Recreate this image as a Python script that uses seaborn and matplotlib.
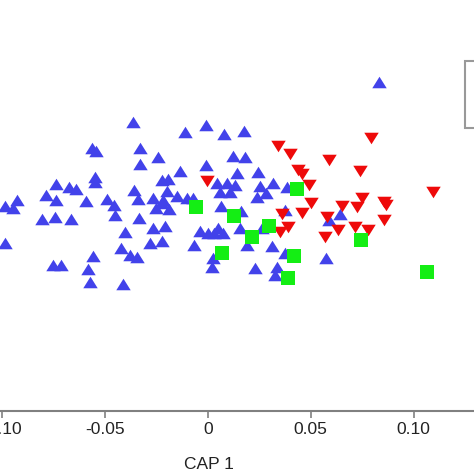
import matplotlib
matplotlib.use("Agg")
import matplotlib.pyplot as plt
import pandas as pd
import seaborn as sns

# CAP scores (CAP 1, CAP 2)
group_a_x = [-0.0564, -0.0545, -0.0550, -0.0550, -0.0740, -0.0676, -0.0642, -0.0788, -0.0740, -0.0594,
             -0.0491, -0.0457, -0.0453, -0.0929, -0.0988, -0.0949, -0.0808, -0.0744, -0.0667, -0.0988,
             -0.0754, -0.0715, -0.0560, -0.0584, -0.0574, -0.0414, -0.0404, -0.0423, -0.0380, -0.0345,
             -0.0365, -0.0112, -0.0010, 0.0078, 0.0175, -0.0331, -0.0243, -0.0331, -0.0136, -0.0010,
             0.0122, 0.0180, 0.0141, 0.0243, -0.0224, -0.0195, -0.0360, -0.0341, -0.0200, -0.0268,
             -0.0219, -0.0151, -0.0102, -0.0073, -0.0253, -0.0224, -0.0190, 0.0044, 0.0092, 0.0131,
             0.0058, 0.0107, 0.0063, 0.0253, 0.0316, 0.0238, 0.0282, 0.0384, 0.0161, -0.0336,
             -0.0268, -0.0209, -0.0224, -0.0282, -0.0039, 0.0000, 0.0029, 0.0049, 0.0073, -0.0068,
             0.0190, 0.0311, 0.0375, 0.0024, 0.0019, 0.0229, 0.0336, 0.0326, 0.0574, 0.0156,
             0.0263, 0.0375, 0.0642, 0.0589, 0.0832]
group_a_y = [0.0302, 0.0287, 0.0161, 0.0136, 0.0127, 0.0112, 0.0102, 0.0073, 0.0049, 0.0044,
             0.0054, 0.0024, -0.0024, 0.0049, 0.0019, 0.0010, -0.0044, -0.0034, -0.0044, -0.0161,
             -0.0268, -0.0268, -0.0224, -0.0287, -0.0350, -0.0360, -0.0107, -0.0185, -0.0219, -0.0229,
             0.0428, 0.0380, 0.0414, 0.0370, 0.0384, 0.0302, 0.0258, 0.0224, 0.0190, 0.0219,
             0.0263, 0.0258, 0.0180, 0.0185, 0.0146, 0.0151, 0.0097, 0.0054, 0.0092, 0.0058,
             0.0049, 0.0068, 0.0058, 0.0058, 0.0010, 0.0034, 0.0005, 0.0131, 0.0131, 0.0122,
             0.0088, 0.0088, 0.0019, 0.0117, 0.0131, 0.0063, 0.0083, 0.0112, -0.0005, -0.0039,
             -0.0088, -0.0078, -0.0151, -0.0161, -0.0102, -0.0112, -0.0112, -0.0088, -0.0112, -0.0170,
             -0.0170, -0.0175, -0.0209, -0.0234, -0.0277, -0.0282, -0.0277, -0.0316, -0.0234, -0.0088,
             -0.0088, 0.0000, -0.0019, -0.0049, 0.0623]

group_b_x = [-0.0005, 0.0341, 0.0399, 0.0589, 0.0793, 0.0740, 0.1095, 0.0438, 0.0457, 0.0491,
             0.0501, 0.0457, 0.0749, 0.0725, 0.0856, 0.0866, 0.0652, 0.0579, 0.0633, 0.0715,
             0.0779, 0.0856, 0.0569, 0.0360, 0.0389, 0.0350]
group_b_y = [0.0141, 0.0311, 0.0273, 0.0243, 0.0350, 0.0190, 0.0088, 0.0195, 0.0175, 0.0122,
             0.0034, -0.0015, 0.0058, 0.0015, 0.0039, 0.0024, 0.0019, -0.0034, -0.0097, -0.0083,
             -0.0097, -0.0049, -0.0131, -0.0019, -0.0083, -0.0107]

group_c_x = [-0.0058, 0.0127, 0.0297, 0.0214, 0.0068, 0.0433, 0.0418, 0.0389, 0.0745, 0.1066]
group_c_y = [0.0015, -0.0029, -0.0078, -0.0131, -0.0209, 0.0102, -0.0224, -0.0331, -0.0146, -0.0302]

groups = ["Group 1", "Group 2", "Group 3"]
xticks = [-0.10, -0.05, 0, 0.05, 0.10]
xticklabels = ["-0.10", "-0.05", "0", "0.05", "0.10"]

df = pd.concat([
    pd.DataFrame({"CAP 1": group_a_x, "CAP 2": group_a_y, "group": groups[0]}),
    pd.DataFrame({"CAP 1": group_b_x, "CAP 2": group_b_y, "group": groups[1]}),
    pd.DataFrame({"CAP 1": group_c_x, "CAP 2": group_c_y, "group": groups[2]}),
])

sns.set_style("white")
plt.rcParams["font.family"] = ["Liberation Sans", "DejaVu Sans"]

fig = plt.figure(figsize=(4.74, 4.74), dpi=100)
ax = fig.add_axes([0, 63 / 474, 1, 411 / 474])

# flatter triangles than matplotlib's default ^ / v
tri_up = [(-1, -0.8), (1, -0.8), (0, 0.8)]
tri_down = [(-1, 0.8), (1, 0.8), (0, -0.8)]

palette = {groups[0]: "#4242ea", groups[1]: "#ee0a0a", groups[2]: "#14ee14"}
markers = {groups[0]: tri_up, groups[1]: tri_down, groups[2]: "s"}
sizes = {groups[0]: 108, groups[1]: 108, groups[2]: 88}

for g in groups:
    sub = df[df.group == g]
    sns.scatterplot(data=sub, x="CAP 1", y="CAP 2", color=palette[g], marker=markers[g],
                    s=sizes[g], linewidth=0, ax=ax, label=g)

ax.set_xlim(-0.1012, 0.1294)
ax.set_ylim(-0.0978, 0.1022)
ax.set_xticks(xticks)
ax.set_xticklabels(xticklabels)
ax.set_yticks([])
ax.set_ylabel("")
for side in ["top", "left", "right"]:
    ax.spines[side].set_visible(False)
ax.spines["bottom"].set_color("#808080")
ax.spines["bottom"].set_linewidth(1.5)
ax.tick_params(axis="x", direction="out", length=5, width=1.2, color="#808080",
               labelsize=12.5, labelcolor="#222222", pad=3, bottom=True)
ax.set_xlabel("CAP 1", fontsize=12.5, color="#222222", labelpad=14)
ax.xaxis.label.set_x(209 / 474)

leg = ax.legend(loc="upper left", bbox_to_anchor=(464.5 / 474, 1 - 61 / 411), borderaxespad=0,
                fancybox=False, frameon=True, fontsize=9.8)
leg.get_frame().set_edgecolor("#808080")
leg.get_frame().set_linewidth(1.5)

fig.savefig("out.png", dpi=100)
